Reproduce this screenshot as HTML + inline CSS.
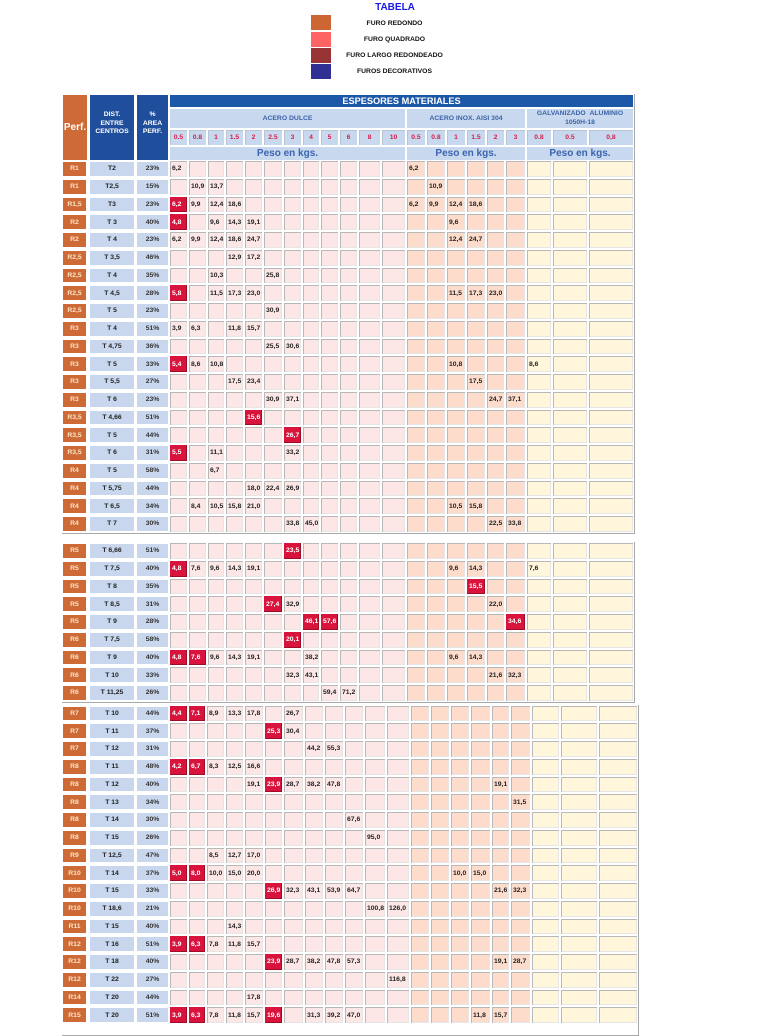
<!DOCTYPE html>
<html><head><meta charset="utf-8"><style>
*{margin:0;padding:0}
body{width:768px;height:1024px;overflow:hidden;background:#fff;position:relative;font-family:"Liberation Sans",Arial,sans-serif}
.ab{position:absolute}
.s{position:absolute;left:62px}
.r{display:flex;height:17.75px}
.r i{flex:none;box-sizing:border-box;height:100%;border:1px solid #fff;display:flex;align-items:center;padding-left:2px;padding-top:2px;font:bold 6.8px/1 "Liberation Sans",Arial,sans-serif;color:#222;background:#fde6e6;box-shadow:inset 1px 1px 0 #b8b8b8,inset -1px -1px 0 #e6e6e6;white-space:nowrap;overflow:hidden}
.r i:nth-child(1){background:#cd6a35;color:#fde4c8;justify-content:center;padding:2px 0 0 0;box-shadow:none;border-width:2px 2px 2px 1px}
.r i:nth-child(2),.r i:nth-child(3){background:#c8d7ee;justify-content:center;padding:2px 0 0 0;box-shadow:none;color:#222}
.r i:nth-child(2){border-width:2px}
.r i:nth-child(3){border-width:2px 1px;color:#333}
.r i:nth-child(n+16){background:#fddccc}
.r i:nth-child(n+22){background:#fff6dc}
.r i.x{background:#d8143c;color:#fff;box-shadow:inset -1px -1px 0 #a00c26}
.r.h{height:17px}
.r.h i{background:#c8d8ee;color:#d4204c;justify-content:center;padding:1px 0 0 0;box-shadow:inset 1px 1px 0 #b8c4d4}
.r.h i:nth-child(-n+3){visibility:hidden}
.A i:nth-child(1){width:26px}.A i:nth-child(2){width:48px}.A i:nth-child(3){width:33px}
.A i:nth-child(4){width:19px}.A i:nth-child(5){width:19px}.A i:nth-child(6){width:18px}
.A i:nth-child(7){width:19px}.A i:nth-child(8){width:19px}.A i:nth-child(9){width:20px}
.A i:nth-child(10){width:19px}.A i:nth-child(11){width:18px}.A i:nth-child(12){width:19px}
.A i:nth-child(13){width:19px}.A i:nth-child(14){width:23px}.A i:nth-child(15){width:25px}
.A i:nth-child(16){width:20px}.A i:nth-child(17){width:20px}.A i:nth-child(18){width:20px}
.A i:nth-child(19){width:20px}.A i:nth-child(20){width:19px}.A i:nth-child(21){width:21px}
.A i:nth-child(22){width:26px}.A i:nth-child(23){width:36px}.A i:nth-child(24){width:46px}
.B i:nth-child(1){width:26px}.B i:nth-child(2){width:48px}.B i:nth-child(3){width:33px}
.B i:nth-child(4){width:19px}.B i:nth-child(5){width:18px}.B i:nth-child(6){width:19px}
.B i:nth-child(7){width:19px}.B i:nth-child(8){width:20px}.B i:nth-child(9){width:19px}
.B i:nth-child(10){width:21px}.B i:nth-child(11){width:20px}.B i:nth-child(12){width:20px}
.B i:nth-child(13){width:20px}.B i:nth-child(14){width:22px}.B i:nth-child(15){width:24px}
.B i:nth-child(16){width:20px}.B i:nth-child(17){width:20px}.B i:nth-child(18){width:20px}
.B i:nth-child(19){width:21px}.B i:nth-child(20){width:19px}.B i:nth-child(21){width:21px}
.B i:nth-child(22){width:29px}.B i:nth-child(23){width:38px}.B i:nth-child(24){width:40px}
.lg{position:absolute;left:339px;width:111px;text-align:center;font:bold 6.8px/1 "Liberation Sans",Arial,sans-serif;color:#111}
.sw{position:absolute;left:311px;width:20px;height:15px}
.gh{position:absolute;top:109px;height:19px;background:#c8d8ee;color:#3b63a8;font:bold 6.8px/19px "Liberation Sans",Arial,sans-serif;text-align:center}
.pe{position:absolute;top:147px;height:13px;background:#c8d8ee;color:#3b64b0;font:bold 10px/13px "Liberation Sans",Arial,sans-serif;text-align:center}
.hd{position:absolute;top:95px;height:65px;box-sizing:border-box;background:#1f4e9c;color:#fff;text-align:center;font:bold 6.8px/8.5px "Liberation Sans",Arial,sans-serif;padding-top:16px}
.box{position:absolute;left:62px;border-right:1px solid #a8a8a8;border-bottom:1px solid #a8a8a8;box-sizing:content-box}
</style></head><body>

<div class="ab" style="left:345px;top:1.5px;width:100px;text-align:center;font:bold 10px/12px 'Liberation Sans',Arial,sans-serif;color:#1a1ae6">TABELA</div>
<div class="sw" style="top:15px;background:#cc6633"></div>
<div class="sw" style="top:32px;background:#ff6464"></div>
<div class="sw" style="top:48px;background:#983436"></div>
<div class="sw" style="top:64px;background:#303094"></div>
<div class="lg" style="top:20.5px">FURO REDONDO</div>
<div class="lg" style="top:36.5px">FURO QUADRADO</div>
<div class="lg" style="top:52.5px">FURO LARGO REDONDEADO</div>
<div class="lg" style="top:68.5px">FUROS DECORATIVOS</div>

<div class="box" style="top:94px;width:572px;height:439px"></div>
<div class="box" style="top:542px;width:572px;height:159.75px"></div>
<div class="box" style="top:704.5px;width:576px;height:330px"></div>

<div class="ab" style="left:63px;top:95px;width:24px;height:65px;background:#cd6a35;color:#fff;font:bold 10px/65px 'Liberation Sans',Arial,sans-serif;text-align:center">Perf.</div>
<div class="hd" style="left:90px;width:44px">DIST.<br>ENTRE<br>CENTROS</div>
<div class="hd" style="left:137px;width:31px">%<br>AREA<br>PERF.</div>
<div class="ab" style="left:170px;top:95px;width:463px;height:12px;background:#1d57a7;color:#fff;font:bold 9.2px/12px 'Liberation Sans',Arial,sans-serif;text-align:center">ESPESORES MATERIALES</div>
<div class="gh" style="left:170px;width:235px">ACERO DULCE</div>
<div class="gh" style="left:407px;width:118px">ACERO INOX. AISI 304</div>
<div class="gh" style="left:527px;width:106px;line-height:8.5px;padding-top:1px;height:18px">GALVANIZADO &nbsp;ALUMINIO<br>1050H-18</div>
<div class="s" style="top:129px"><div class="r A h"><i></i><i></i><i></i><i>0.5</i><i>0.8</i><i>1</i><i>1.5</i><i>2</i><i>2.5</i><i>3</i><i>4</i><i>5</i><i>6</i><i>8</i><i>10</i><i>0.5</i><i>0.8</i><i>1</i><i>1.5</i><i>2</i><i>3</i><i>0.8</i><i>0.5</i><i>0,8</i></div></div>
<div class="pe" style="left:170px;width:235px">Peso en kgs.</div>
<div class="pe" style="left:407px;width:118px">Peso en kgs.</div>
<div class="pe" style="left:527px;width:106px">Peso en kgs.</div>

<div class="s A" style="top:160px">
<div class="r A"><i>R1</i><i>T2</i><i>23%</i><i>6,2</i><i></i><i></i><i></i><i></i><i></i><i></i><i></i><i></i><i></i><i></i><i></i><i>6,2</i><i></i><i></i><i></i><i></i><i></i><i></i><i></i><i></i></div>
<div class="r A"><i>R1</i><i>T2,5</i><i>15%</i><i></i><i>10,9</i><i>13,7</i><i></i><i></i><i></i><i></i><i></i><i></i><i></i><i></i><i></i><i></i><i>10,9</i><i></i><i></i><i></i><i></i><i></i><i></i><i></i></div>
<div class="r A"><i>R1,5</i><i>T3</i><i>23%</i><i class="x">6,2</i><i>9,9</i><i>12,4</i><i>18,6</i><i></i><i></i><i></i><i></i><i></i><i></i><i></i><i></i><i>6,2</i><i>9,9</i><i>12,4</i><i>18,6</i><i></i><i></i><i></i><i></i><i></i></div>
<div class="r A"><i>R2</i><i>T 3</i><i>40%</i><i class="x">4,8</i><i></i><i>9,6</i><i>14,3</i><i>19,1</i><i></i><i></i><i></i><i></i><i></i><i></i><i></i><i></i><i></i><i>9,6</i><i></i><i></i><i></i><i></i><i></i><i></i></div>
<div class="r A"><i>R2</i><i>T 4</i><i>23%</i><i>6,2</i><i>9,9</i><i>12,4</i><i>18,6</i><i>24,7</i><i></i><i></i><i></i><i></i><i></i><i></i><i></i><i></i><i></i><i>12,4</i><i>24,7</i><i></i><i></i><i></i><i></i><i></i></div>
<div class="r A"><i>R2,5</i><i>T 3,5</i><i>46%</i><i></i><i></i><i></i><i>12,9</i><i>17,2</i><i></i><i></i><i></i><i></i><i></i><i></i><i></i><i></i><i></i><i></i><i></i><i></i><i></i><i></i><i></i><i></i></div>
<div class="r A"><i>R2,5</i><i>T 4</i><i>35%</i><i></i><i></i><i>10,3</i><i></i><i></i><i>25,8</i><i></i><i></i><i></i><i></i><i></i><i></i><i></i><i></i><i></i><i></i><i></i><i></i><i></i><i></i><i></i></div>
<div class="r A"><i>R2,5</i><i>T 4,5</i><i>28%</i><i class="x">5,8</i><i></i><i>11,5</i><i>17,3</i><i>23,0</i><i></i><i></i><i></i><i></i><i></i><i></i><i></i><i></i><i></i><i>11,5</i><i>17,3</i><i>23,0</i><i></i><i></i><i></i><i></i></div>
<div class="r A"><i>R2,5</i><i>T 5</i><i>23%</i><i></i><i></i><i></i><i></i><i></i><i>30,9</i><i></i><i></i><i></i><i></i><i></i><i></i><i></i><i></i><i></i><i></i><i></i><i></i><i></i><i></i><i></i></div>
<div class="r A"><i>R3</i><i>T 4</i><i>51%</i><i>3,9</i><i>6,3</i><i></i><i>11,8</i><i>15,7</i><i></i><i></i><i></i><i></i><i></i><i></i><i></i><i></i><i></i><i></i><i></i><i></i><i></i><i></i><i></i><i></i></div>
<div class="r A"><i>R3</i><i>T 4,75</i><i>36%</i><i></i><i></i><i></i><i></i><i></i><i>25,5</i><i>30,6</i><i></i><i></i><i></i><i></i><i></i><i></i><i></i><i></i><i></i><i></i><i></i><i></i><i></i><i></i></div>
<div class="r A"><i>R3</i><i>T 5</i><i>33%</i><i class="x">5,4</i><i>8,6</i><i>10,8</i><i></i><i></i><i></i><i></i><i></i><i></i><i></i><i></i><i></i><i></i><i></i><i>10,8</i><i></i><i></i><i></i><i>8,6</i><i></i><i></i></div>
<div class="r A"><i>R3</i><i>T 5,5</i><i>27%</i><i></i><i></i><i></i><i>17,5</i><i>23,4</i><i></i><i></i><i></i><i></i><i></i><i></i><i></i><i></i><i></i><i></i><i>17,5</i><i></i><i></i><i></i><i></i><i></i></div>
<div class="r A"><i>R3</i><i>T 6</i><i>23%</i><i></i><i></i><i></i><i></i><i></i><i>30,9</i><i>37,1</i><i></i><i></i><i></i><i></i><i></i><i></i><i></i><i></i><i></i><i>24,7</i><i>37,1</i><i></i><i></i><i></i></div>
<div class="r A"><i>R3,5</i><i>T 4,66</i><i>51%</i><i></i><i></i><i></i><i></i><i class="x">15,6</i><i></i><i></i><i></i><i></i><i></i><i></i><i></i><i></i><i></i><i></i><i></i><i></i><i></i><i></i><i></i><i></i></div>
<div class="r A"><i>R3,5</i><i>T 5</i><i>44%</i><i></i><i></i><i></i><i></i><i></i><i></i><i class="x">26,7</i><i></i><i></i><i></i><i></i><i></i><i></i><i></i><i></i><i></i><i></i><i></i><i></i><i></i><i></i></div>
<div class="r A"><i>R3,5</i><i>T 6</i><i>31%</i><i class="x">5,5</i><i></i><i>11,1</i><i></i><i></i><i></i><i>33,2</i><i></i><i></i><i></i><i></i><i></i><i></i><i></i><i></i><i></i><i></i><i></i><i></i><i></i><i></i></div>
<div class="r A"><i>R4</i><i>T 5</i><i>58%</i><i></i><i></i><i>6,7</i><i></i><i></i><i></i><i></i><i></i><i></i><i></i><i></i><i></i><i></i><i></i><i></i><i></i><i></i><i></i><i></i><i></i><i></i></div>
<div class="r A"><i>R4</i><i>T 5,75</i><i>44%</i><i></i><i></i><i></i><i></i><i>18,0</i><i>22,4</i><i>26,9</i><i></i><i></i><i></i><i></i><i></i><i></i><i></i><i></i><i></i><i></i><i></i><i></i><i></i><i></i></div>
<div class="r A"><i>R4</i><i>T 6,5</i><i>34%</i><i></i><i>8,4</i><i>10,5</i><i>15,8</i><i>21,0</i><i></i><i></i><i></i><i></i><i></i><i></i><i></i><i></i><i></i><i>10,5</i><i>15,8</i><i></i><i></i><i></i><i></i><i></i></div>
<div class="r A"><i>R4</i><i>T 7</i><i>30%</i><i></i><i></i><i></i><i></i><i></i><i></i><i>33,8</i><i>45,0</i><i></i><i></i><i></i><i></i><i></i><i></i><i></i><i></i><i>22,5</i><i>33,8</i><i></i><i></i><i></i></div>
</div>

<div class="s" style="top:542px">
<div class="r A"><i>R5</i><i>T 6,66</i><i>51%</i><i></i><i></i><i></i><i></i><i></i><i></i><i class="x">23,5</i><i></i><i></i><i></i><i></i><i></i><i></i><i></i><i></i><i></i><i></i><i></i><i></i><i></i><i></i></div>
<div class="r A"><i>R5</i><i>T 7,5</i><i>40%</i><i class="x">4,8</i><i>7,6</i><i>9,6</i><i>14,3</i><i>19,1</i><i></i><i></i><i></i><i></i><i></i><i></i><i></i><i></i><i></i><i>9,6</i><i>14,3</i><i></i><i></i><i>7,6</i><i></i><i></i></div>
<div class="r A"><i>R5</i><i>T 8</i><i>35%</i><i></i><i></i><i></i><i></i><i></i><i></i><i></i><i></i><i></i><i></i><i></i><i></i><i></i><i></i><i></i><i class="x">15,5</i><i></i><i></i><i></i><i></i><i></i></div>
<div class="r A"><i>R5</i><i>T 8,5</i><i>31%</i><i></i><i></i><i></i><i></i><i></i><i class="x">27,4</i><i>32,9</i><i></i><i></i><i></i><i></i><i></i><i></i><i></i><i></i><i></i><i>22,0</i><i></i><i></i><i></i><i></i></div>
<div class="r A"><i>R5</i><i>T 9</i><i>28%</i><i></i><i></i><i></i><i></i><i></i><i></i><i></i><i class="x">46,1</i><i class="x">57,6</i><i></i><i></i><i></i><i></i><i></i><i></i><i></i><i></i><i class="x">34,6</i><i></i><i></i><i></i></div>
<div class="r A"><i>R6</i><i>T 7,5</i><i>58%</i><i></i><i></i><i></i><i></i><i></i><i></i><i class="x">20,1</i><i></i><i></i><i></i><i></i><i></i><i></i><i></i><i></i><i></i><i></i><i></i><i></i><i></i><i></i></div>
<div class="r A"><i>R6</i><i>T 9</i><i>40%</i><i class="x">4,8</i><i class="x">7,6</i><i>9,6</i><i>14,3</i><i>19,1</i><i></i><i></i><i>38,2</i><i></i><i></i><i></i><i></i><i></i><i></i><i>9,6</i><i>14,3</i><i></i><i></i><i></i><i></i><i></i></div>
<div class="r A"><i>R6</i><i>T 10</i><i>33%</i><i></i><i></i><i></i><i></i><i></i><i></i><i>32,3</i><i>43,1</i><i></i><i></i><i></i><i></i><i></i><i></i><i></i><i></i><i>21,6</i><i>32,3</i><i></i><i></i><i></i></div>
<div class="r A"><i>R6</i><i>T 11,25</i><i>26%</i><i></i><i></i><i></i><i></i><i></i><i></i><i></i><i></i><i>59,4</i><i>71,2</i><i></i><i></i><i></i><i></i><i></i><i></i><i></i><i></i><i></i><i></i><i></i></div>
</div>

<div class="s" style="top:704.5px">
<div class="r B"><i>R7</i><i>T 10</i><i>44%</i><i class="x">4,4</i><i class="x">7,1</i><i>8,9</i><i>13,3</i><i>17,8</i><i></i><i>26,7</i><i></i><i></i><i></i><i></i><i></i><i></i><i></i><i></i><i></i><i></i><i></i><i></i><i></i><i></i></div>
<div class="r B"><i>R7</i><i>T 11</i><i>37%</i><i></i><i></i><i></i><i></i><i></i><i class="x">25,3</i><i>30,4</i><i></i><i></i><i></i><i></i><i></i><i></i><i></i><i></i><i></i><i></i><i></i><i></i><i></i><i></i></div>
<div class="r B"><i>R7</i><i>T 12</i><i>31%</i><i></i><i></i><i></i><i></i><i></i><i></i><i></i><i>44,2</i><i>55,3</i><i></i><i></i><i></i><i></i><i></i><i></i><i></i><i></i><i></i><i></i><i></i><i></i></div>
<div class="r B"><i>R8</i><i>T 11</i><i>48%</i><i class="x">4,2</i><i class="x">6,7</i><i>8,3</i><i>12,5</i><i>16,6</i><i></i><i></i><i></i><i></i><i></i><i></i><i></i><i></i><i></i><i></i><i></i><i></i><i></i><i></i><i></i><i></i></div>
<div class="r B"><i>R8</i><i>T 12</i><i>40%</i><i></i><i></i><i></i><i></i><i>19,1</i><i class="x">23,9</i><i>28,7</i><i>38,2</i><i>47,8</i><i></i><i></i><i></i><i></i><i></i><i></i><i></i><i>19,1</i><i></i><i></i><i></i><i></i></div>
<div class="r B"><i>R8</i><i>T 13</i><i>34%</i><i></i><i></i><i></i><i></i><i></i><i></i><i></i><i></i><i></i><i></i><i></i><i></i><i></i><i></i><i></i><i></i><i></i><i>31,5</i><i></i><i></i><i></i></div>
<div class="r B"><i>R8</i><i>T 14</i><i>30%</i><i></i><i></i><i></i><i></i><i></i><i></i><i></i><i></i><i></i><i>67,6</i><i></i><i></i><i></i><i></i><i></i><i></i><i></i><i></i><i></i><i></i><i></i></div>
<div class="r B"><i>R8</i><i>T 15</i><i>26%</i><i></i><i></i><i></i><i></i><i></i><i></i><i></i><i></i><i></i><i></i><i>95,0</i><i></i><i></i><i></i><i></i><i></i><i></i><i></i><i></i><i></i><i></i></div>
<div class="r B"><i>R9</i><i>T 12,5</i><i>47%</i><i></i><i></i><i>8,5</i><i>12,7</i><i>17,0</i><i></i><i></i><i></i><i></i><i></i><i></i><i></i><i></i><i></i><i></i><i></i><i></i><i></i><i></i><i></i><i></i></div>
<div class="r B"><i>R10</i><i>T 14</i><i>37%</i><i class="x">5,0</i><i class="x">8,0</i><i>10,0</i><i>15,0</i><i>20,0</i><i></i><i></i><i></i><i></i><i></i><i></i><i></i><i></i><i></i><i>10,0</i><i>15,0</i><i></i><i></i><i></i><i></i><i></i></div>
<div class="r B"><i>R10</i><i>T 15</i><i>33%</i><i></i><i></i><i></i><i></i><i></i><i class="x">26,9</i><i>32,3</i><i>43,1</i><i>53,9</i><i>64,7</i><i></i><i></i><i></i><i></i><i></i><i></i><i>21,6</i><i>32,3</i><i></i><i></i><i></i></div>
<div class="r B"><i>R10</i><i>T 18,6</i><i>21%</i><i></i><i></i><i></i><i></i><i></i><i></i><i></i><i></i><i></i><i></i><i>100,8</i><i>126,0</i><i></i><i></i><i></i><i></i><i></i><i></i><i></i><i></i><i></i></div>
<div class="r B"><i>R11</i><i>T 15</i><i>40%</i><i></i><i></i><i></i><i>14,3</i><i></i><i></i><i></i><i></i><i></i><i></i><i></i><i></i><i></i><i></i><i></i><i></i><i></i><i></i><i></i><i></i><i></i></div>
<div class="r B"><i>R12</i><i>T 16</i><i>51%</i><i class="x">3,9</i><i class="x">6,3</i><i>7,8</i><i>11,8</i><i>15,7</i><i></i><i></i><i></i><i></i><i></i><i></i><i></i><i></i><i></i><i></i><i></i><i></i><i></i><i></i><i></i><i></i></div>
<div class="r B"><i>R12</i><i>T 18</i><i>40%</i><i></i><i></i><i></i><i></i><i></i><i class="x">23,9</i><i>28,7</i><i>38,2</i><i>47,8</i><i>57,3</i><i></i><i></i><i></i><i></i><i></i><i></i><i>19,1</i><i>28,7</i><i></i><i></i><i></i></div>
<div class="r B"><i>R12</i><i>T 22</i><i>27%</i><i></i><i></i><i></i><i></i><i></i><i></i><i></i><i></i><i></i><i></i><i></i><i>116,8</i><i></i><i></i><i></i><i></i><i></i><i></i><i></i><i></i><i></i></div>
<div class="r B"><i>R14</i><i>T 20</i><i>44%</i><i></i><i></i><i></i><i></i><i>17,8</i><i></i><i></i><i></i><i></i><i></i><i></i><i></i><i></i><i></i><i></i><i></i><i></i><i></i><i></i><i></i><i></i></div>
<div class="r B"><i>R15</i><i>T 20</i><i>51%</i><i class="x">3,9</i><i class="x">6,3</i><i>7,8</i><i>11,8</i><i>15,7</i><i class="x">19,6</i><i></i><i>31,3</i><i>39,2</i><i>47,0</i><i></i><i></i><i></i><i></i><i></i><i>11,8</i><i>15,7</i><i></i><i></i><i></i><i></i></div>
</div>

</body></html>
